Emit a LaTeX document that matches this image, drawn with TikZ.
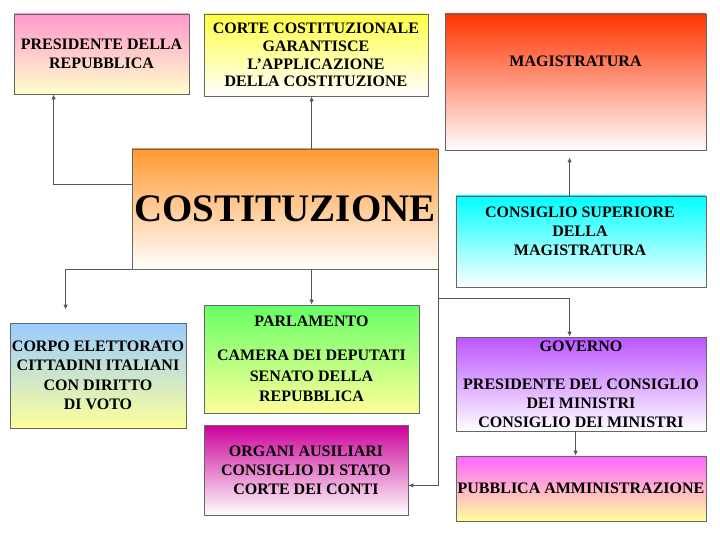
\documentclass[tikz,border=0pt]{standalone}
\usepackage{fontspec}
\setmainfont{Liberation Serif}
\usetikzlibrary{arrows.meta,calc}
\definecolor{cpink}{HTML}{FF99CC}
\definecolor{cpaley}{HTML}{FFFFCC}
\definecolor{cyell}{HTML}{FFFF44}
\definecolor{cred}{HTML}{FF3300}
\definecolor{corange}{HTML}{FF9933}
\definecolor{ccyan}{HTML}{00FFFF}
\definecolor{cblue}{HTML}{99CCFF}
\definecolor{cyel2}{HTML}{FFFF99}
\definecolor{cgreen}{HTML}{66FF66}
\definecolor{cpurple}{HTML}{BB55FF}
\definecolor{cmag}{HTML}{CC0099}
\definecolor{cpink2}{HTML}{FF66FF}
\definecolor{cline}{HTML}{555555}
\definecolor{cborder}{HTML}{666666}
\begin{document}
\begin{tikzpicture}[x=1pt,y=-1pt,
  box/.style={draw=cborder, line width=0.8pt, inner sep=0pt, align=center,
    font=\bfseries\fontsize{16}{19}\selectfont, text=black},
  txt/.style={inner sep=0pt, align=center, font=\bfseries\fontsize{16}{19}\selectfont, text=black},
  arr/.style={draw=cline, line width=0.8pt, -{Latex[length=5pt,width=4.5pt]}},
  ln/.style={draw=cline, line width=0.8pt}]
\useasboundingbox[fill=white] (0,0) rectangle (720,540);

\node[box, minimum width=175pt, minimum height=80pt, top color=cpink, bottom color=cpaley]
  (pres) at (101.5,54) {PRESIDENTE DELLA\\REPUBBLICA};
\node[box, minimum width=224pt, minimum height=82pt, top color=cyell, bottom color=white,
  font=\bfseries\fontsize{16}{17.8}\selectfont]
  (corte) at (316,55) {CORTE COSTITUZIONALE\\GARANTISCE\\L’APPLICAZIONE\\DELLA COSTITUZIONE};
\node[box, minimum width=261pt, minimum height=136pt, top color=cred, bottom color=white]
  (mag) at (575.5,82) {};
\node[txt] (magt) at ($(mag.north)+(0,48)$) {MAGISTRATURA};
\node[box, minimum width=306pt, minimum height=120pt, top color=corange, bottom color=white,
  font=\bfseries\fontsize{39}{44}\selectfont]
  (cost) at (285,209) {COSTITUZIONE};
\node[box, minimum width=250pt, minimum height=91pt, top color=ccyan, bottom color=white]
  (csm) at (581,241.5) {};
\node[txt] (csmt) at ($(csm.north)+(-1,36)$) {CONSIGLIO SUPERIORE\\DELLA\\MAGISTRATURA};
\node[box, minimum width=176pt, minimum height=105pt, top color=cblue, bottom color=cyel2,
  font=\bfseries\fontsize{16}{19.5}\selectfont]
  (corpo) at (98,375.5) {CORPO ELETTORATO\\CITTADINI ITALIANI\\CON DIRITTO\\DI VOTO};
\node[box, minimum width=215pt, minimum height=108pt, top color=cgreen, bottom color=cyel2,
  font=\bfseries\fontsize{16}{20.5}\selectfont]
  (parl) at (311.5,359) {PARLAMENTO\\[14pt]CAMERA DEI DEPUTATI\\SENATO DELLA\\REPUBBLICA};
\node[box, minimum width=250pt, minimum height=94pt, top color=cpurple, bottom color=white]
  (gov) at (581,384) {GOVERNO\\[19pt]PRESIDENTE DEL CONSIGLIO\\DEI MINISTRI\\CONSIGLIO DEI MINISTRI};
\node[box, minimum width=204pt, minimum height=90pt, top color=cmag, bottom color=white]
  (org) at (306,470) {ORGANI AUSILIARI\\CONSIGLIO DI STATO\\CORTE DEI CONTI};
\node[box, minimum width=250pt, minimum height=65pt, top color=cpink2, bottom color=cyel2]
  (pub) at (581,488.5) {PUBBLICA AMMINISTRAZIONE};

\coordinate (corpoin) at ($(corpo.north west)+(56,-13)$);
\coordinate (magin) at ($(mag.south west)+(125,7)$);

\draw[arr] ($(cost.north west)+(0,36)$) -| ($(pres.south west)+(40,0)$);
\draw[arr] ($(cost.north west)+(180,0)$) -- ($(corte.south west)+(108,0)$);
\draw[ln] (cost.south west) -- ($(cost.south west)+(-66,0)$);
\draw[arr] ($(cost.south west)+(-66,0)$) -- (corpoin);
\draw[arr] ($(cost.south west)+(180,0)$) -- ($(parl.north west)+(108,0)$);
\draw[arr] (cost.south east) |- ($(org.south east)+(0,-30)$);
\draw[arr] ($(cost.south east)+(0,29)$) -| ($(gov.north west)+(114,0)$);
\draw[arr] ($(gov.south west)+(120,0)$) -- ($(pub.north west)+(120,0)$);
\draw[arr] ($(csm.north west)+(114,0)$) -- (magin);
\end{tikzpicture}
\end{document}
